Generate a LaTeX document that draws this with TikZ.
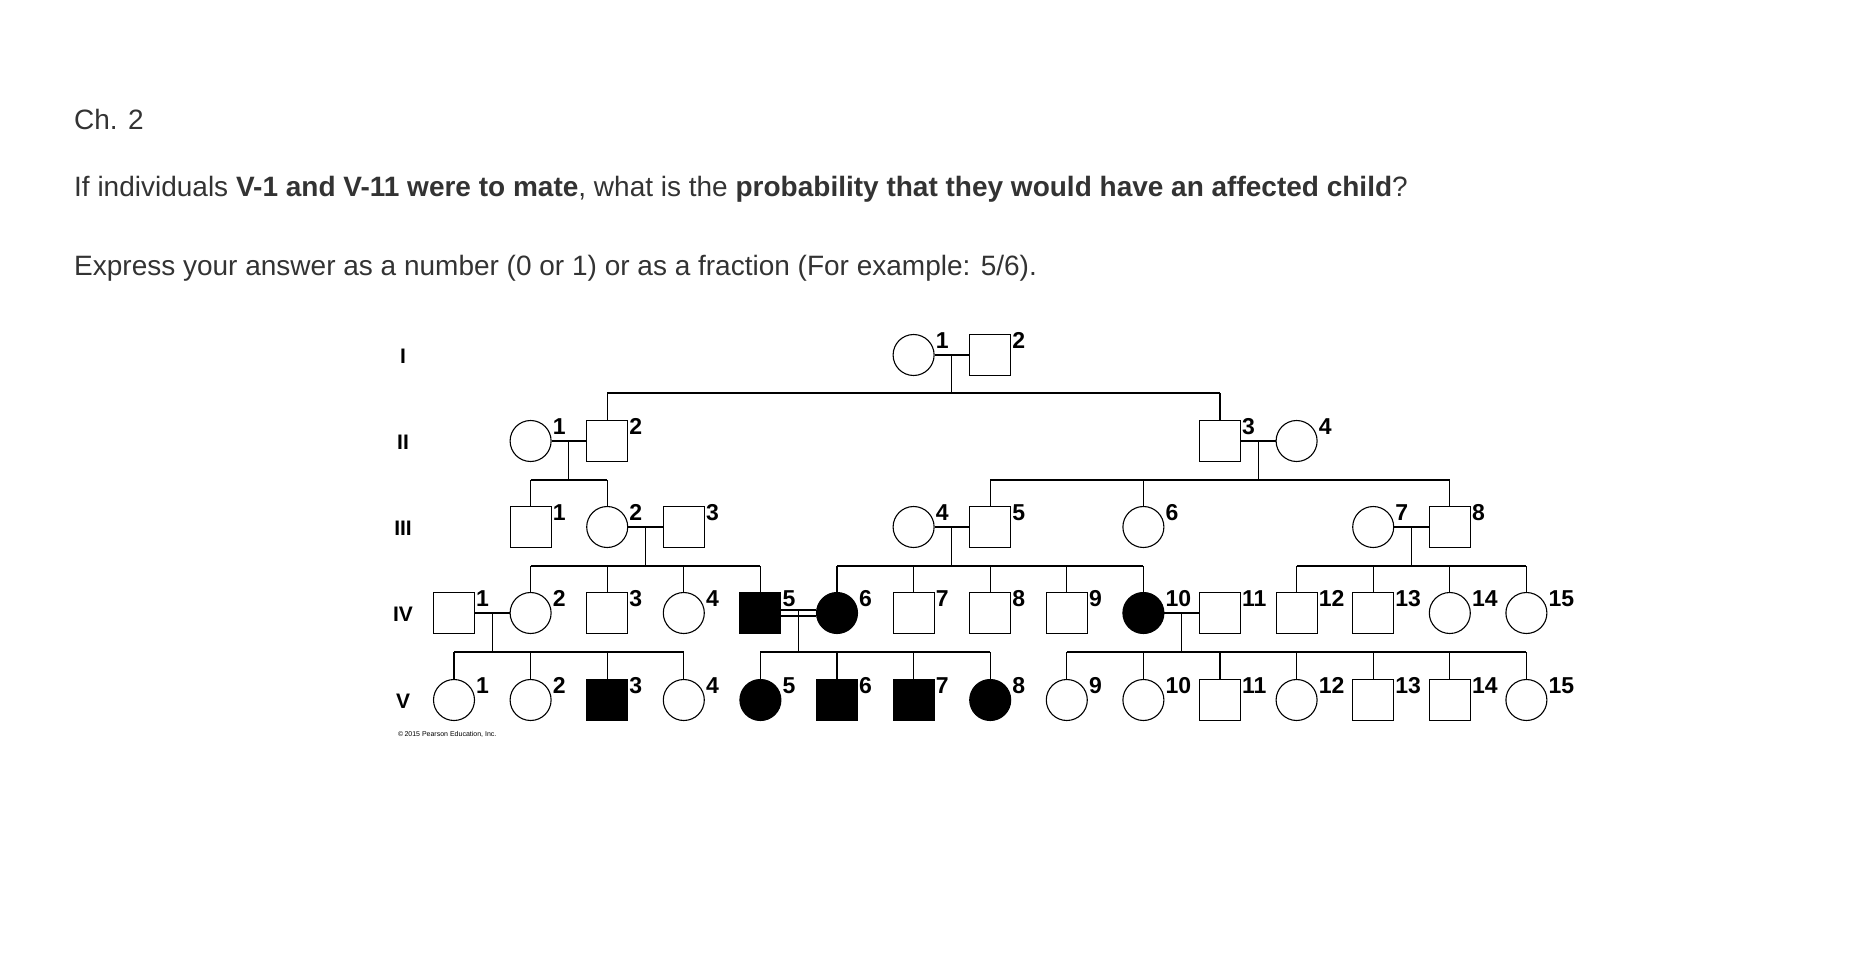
\documentclass[tikz,border=0pt]{standalone}
\usepackage{fontspec}
\setmainfont{Liberation Sans}
\usetikzlibrary{calc}
\definecolor{txt}{HTML}{333333}
\tikzset{
  sym/.style={draw, line width=1.1pt, minimum size=41pt, inner sep=0pt},
  male/.style={sym, rectangle},
  female/.style={sym, circle},
  aff/.style={fill=black},
  lbl/.style={anchor=base west, inner sep=0pt, font=\fontsize{23}{23}\selectfont\bfseries},
  gen/.style={anchor=base, inner sep=0pt, font=\fontsize{21}{21}\selectfont\bfseries},
  ln/.style={line width=1.1pt},
  q/.style={anchor=base west, inner sep=0pt, text=txt, font=\fontsize{28}{28}\selectfont}
}
\newcommand\ind[5]{\node[#2] (#1) at ({454+76.6*(#3-1)},#4) {};
  \node[lbl] (#1l) at ({454+76.6*(#3-1)+22},#4-7) {#5};}
\newcommand\sib[3]{% name, y, list endpoints
  \draw[ln] (#1) -- (#1 |- 0,#2);}
\begin{document}
\begin{tikzpicture}[x=1pt,y=-1pt]
\useasboundingbox (0,0) rectangle (1859,966);
\node[q] (t1) at (74,129) {Ch. 2};
\node[q] (t2) at (74,196) {If individuals \textbf{V-1 and V-11 were to mate}, what is the \textbf{probability that they would have an affected child}?};
\node[q] (t3) at (74,275) {Express your answer as a number (0 or 1) or as a fraction (For example: 5/6).};
% generation labels
\node[gen] (gI) at (403,363) {I};
\node[gen] (gII) at (403,449) {II};
\node[gen] (gIII) at (403,535) {III};
\node[gen] (gIV) at (403,621) {IV};
\node[gen] (gV) at (403,708) {V};
\node[anchor=west, inner sep=0pt, font=\fontsize{7}{7}\selectfont] (cr) at (398,734) {\textcopyright\,2015 Pearson Education, Inc.};
% I
\ind{I1}{female}{7}{355}{1}
\ind{I2}{male}{8}{355}{2}
% II
\ind{II1}{female}{2}{441}{1}
\ind{II2}{male}{3}{441}{2}
\ind{II3}{male}{11}{441}{3}
\ind{II4}{female}{12}{441}{4}
% III
\ind{III1}{male}{2}{527}{1}
\ind{III2}{female}{3}{527}{2}
\ind{III3}{male}{4}{527}{3}
\ind{III4}{female}{7}{527}{4}
\ind{III5}{male}{8}{527}{5}
\ind{III6}{female}{10}{527}{6}
\ind{III7}{female}{13}{527}{7}
\ind{III8}{male}{14}{527}{8}
% IV
\ind{IV1}{male}{1}{613}{1}
\ind{IV2}{female}{2}{613}{2}
\ind{IV3}{male}{3}{613}{3}
\ind{IV4}{female}{4}{613}{4}
\ind{IV5}{male,aff}{5}{613}{5}
\ind{IV6}{female,aff}{6}{613}{6}
\ind{IV7}{male}{7}{613}{7}
\ind{IV8}{male}{8}{613}{8}
\ind{IV9}{male}{9}{613}{9}
\ind{IV10}{female,aff}{10}{613}{10}
\ind{IV11}{male}{11}{613}{11}
\ind{IV12}{male}{12}{613}{12}
\ind{IV13}{male}{13}{613}{13}
\ind{IV14}{female}{14}{613}{14}
\ind{IV15}{female}{15}{613}{15}
% V
\ind{V1}{female}{1}{700}{1}
\ind{V2}{female}{2}{700}{2}
\ind{V3}{male,aff}{3}{700}{3}
\ind{V4}{female}{4}{700}{4}
\ind{V5}{female,aff}{5}{700}{5}
\ind{V6}{male,aff}{6}{700}{6}
\ind{V7}{male,aff}{7}{700}{7}
\ind{V8}{female,aff}{8}{700}{8}
\ind{V9}{female}{9}{700}{9}
\ind{V10}{female}{10}{700}{10}
\ind{V11}{male}{11}{700}{11}
\ind{V12}{female}{12}{700}{12}
\ind{V13}{male}{13}{700}{13}
\ind{V14}{male}{14}{700}{14}
\ind{V15}{female}{15}{700}{15}
% marriages
\draw[ln] (I1) -- (I2);
\draw[ln] (II1) -- (II2);
\draw[ln] (II3) -- (II4);
\draw[ln] (III2) -- (III3);
\draw[ln] (III4) -- (III5);
\draw[ln] (III7) -- (III8);
\draw[ln] (IV1) -- (IV2);
\draw[ln] (IV10) -- (IV11);
\draw[ln] ([yshift=-3pt]IV5.east) -- ([yshift=-3pt]IV6.west);
\draw[ln] ([yshift=3pt]IV5.east) -- ([yshift=3pt]IV6.west);
% descent lines
\coordinate (mI) at ($(I1)!0.5!(I2)$);
\draw[ln] (mI) -- (mI |- 0,393);
\draw[ln] (II2.north |- 0,393) -- (II3.north |- 0,393);
\draw[ln] (II2.north) -- (II2.north |- 0,393);
\draw[ln] (II3.north) -- (II3.north |- 0,393);
\coordinate (mII1) at ($(II1)!0.5!(II2)$);
\draw[ln] (mII1) -- (mII1 |- 0,480);
\draw[ln] (III1.north |- 0,480) -- (III2.north |- 0,480);
\foreach \c in {III1,III2} \draw[ln] (\c.north) -- (\c.north |- 0,480);
\coordinate (mII3) at ($(II3)!0.5!(II4)$);
\draw[ln] (mII3) -- (mII3 |- 0,480);
\draw[ln] (III5.north |- 0,480) -- (III8.north |- 0,480);
\foreach \c in {III5,III6,III8} \draw[ln] (\c.north) -- (\c.north |- 0,480);
\coordinate (mIII2) at ($(III2)!0.5!(III3)$);
\draw[ln] (mIII2) -- (mIII2 |- 0,566);
\draw[ln] (IV2.north |- 0,566) -- (IV5.north |- 0,566);
\foreach \c in {IV2,IV3,IV4,IV5} \draw[ln] (\c.north) -- (\c.north |- 0,566);
\coordinate (mIII4) at ($(III4)!0.5!(III5)$);
\draw[ln] (mIII4) -- (mIII4 |- 0,566);
\draw[ln] (IV6.north |- 0,566) -- (IV10.north |- 0,566);
\foreach \c in {IV6,IV7,IV8,IV9,IV10} \draw[ln] (\c.north) -- (\c.north |- 0,566);
\coordinate (mIII7) at ($(III7)!0.5!(III8)$);
\draw[ln] (mIII7) -- (mIII7 |- 0,566);
\draw[ln] (IV12.north |- 0,566) -- (IV15.north |- 0,566);
\foreach \c in {IV12,IV13,IV14,IV15} \draw[ln] (\c.north) -- (\c.north |- 0,566);
\coordinate (mIV1) at ($(IV1)!0.5!(IV2)$);
\draw[ln] (mIV1) -- (mIV1 |- 0,652);
\draw[ln] (V1.north |- 0,652) -- (V4.north |- 0,652);
\foreach \c in {V1,V2,V3,V4} \draw[ln] (\c.north) -- (\c.north |- 0,652);
\coordinate (mIV5) at ($(IV5)!0.5!(IV6)$);
\draw[ln] ([yshift=3pt]mIV5) -- (mIV5 |- 0,652);
\draw[ln] (V5.north |- 0,652) -- (V8.north |- 0,652);
\foreach \c in {V5,V6,V7,V8} \draw[ln] (\c.north) -- (\c.north |- 0,652);
\coordinate (mIV10) at ($(IV10)!0.5!(IV11)$);
\draw[ln] (mIV10) -- (mIV10 |- 0,652);
\draw[ln] (V9.north |- 0,652) -- (V15.north |- 0,652);
\foreach \c in {V9,V10,V11,V12,V13,V14,V15} \draw[ln] (\c.north) -- (\c.north |- 0,652);
\end{tikzpicture}
\end{document}
